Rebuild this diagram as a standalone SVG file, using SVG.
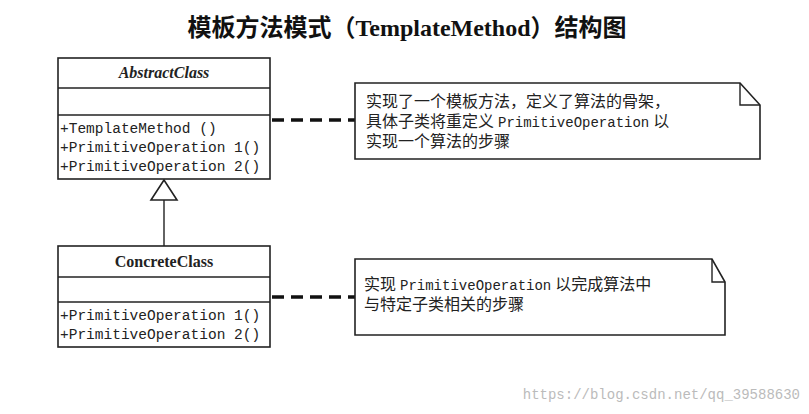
<svg xmlns="http://www.w3.org/2000/svg" width="809" height="414" viewBox="0 0 809 414">
<style>
.b{fill:#fff;stroke:#222;stroke-width:1.6}
.l{stroke:#222;stroke-width:1.4;fill:none}
.d{stroke:#111;stroke-width:3.5;stroke-dasharray:12,7;fill:none}
.m{font-family:"Liberation Mono",monospace;font-size:14.5px;fill:#222}
.c{font-family:"Liberation Serif","Noto Sans CJK SC",serif;font-size:16px;fill:#222}
.n{font-family:"Liberation Serif","Noto Sans CJK SC",serif;font-size:16px;fill:#222}
.t{font-family:"Liberation Mono",monospace;font-size:14px}
</style>
<rect width="809" height="414" fill="#fff"/>
<text x="407" y="36" text-anchor="middle" style="font-family:'Liberation Serif','Noto Sans CJK SC',serif;font-size:24px;font-weight:bold" fill="#111">模板方法模式（TemplateMethod）结构图</text>
<g id="connectors">
<line class="l" x1="164" y1="200" x2="164" y2="246"/>
<polygon points="164,180 151,200 177,200" class="b"/>
<line class="d" x1="272" y1="120" x2="355" y2="120"/>
<line class="d" x1="272" y1="297" x2="355" y2="297"/>
</g>
<g id="AbstractClass">
<rect class="b" x="58" y="58" width="212" height="121"/>
<line class="l" x1="58" y1="88" x2="270" y2="88"/>
<line class="l" x1="58" y1="115" x2="270" y2="115"/>
<text x="164" y="78" text-anchor="middle" class="c" font-style="italic" font-weight="bold">AbstractClass</text>
<text x="60" y="133" class="m">+TemplateMethod ()</text>
<text x="60" y="152" class="m">+PrimitiveOperation 1()</text>
<text x="60" y="171" class="m">+PrimitiveOperation 2()</text>
</g>
<g id="ConcreteClass">
<rect class="b" x="58" y="246" width="212" height="101"/>
<line class="l" x1="58" y1="277" x2="270" y2="277"/>
<line class="l" x1="58" y1="302" x2="270" y2="302"/>
<text x="164" y="267" text-anchor="middle" class="c" font-weight="bold">ConcreteClass</text>
<text x="60" y="320" class="m">+PrimitiveOperation 1()</text>
<text x="60" y="339" class="m">+PrimitiveOperation 2()</text>
</g>
<g id="note1">
<path class="b" d="M355,83 H740 L760,105 V159 H355 Z"/>
<path class="l" d="M740,83 V105 H760"/>
<text x="366" y="107" class="n">实现了一个模板方法，定义了算法的骨架，</text>
<text x="366" y="127" class="n">具体子类将重定义 <tspan class="t">PrimitiveOperation</tspan> 以</text>
<text x="366" y="147" class="n">实现一个算法的步骤</text>
</g>
<g id="note2">
<path class="b" d="M355,259 H712 L725,282 V335 H355 Z"/>
<path class="l" d="M712,259 V282 H725"/>
<text x="364" y="290" class="n">实现 <tspan class="t">PrimitiveOperation</tspan> 以完成算法中</text>
<text x="364" y="310" class="n">与特定子类相关的步骤</text>
</g>
<text x="800" y="399" text-anchor="end" style="font-family:'Liberation Mono',monospace;font-size:14px" fill="#bbb">https://blog.csdn.net/qq_39588630</text>
</svg>
